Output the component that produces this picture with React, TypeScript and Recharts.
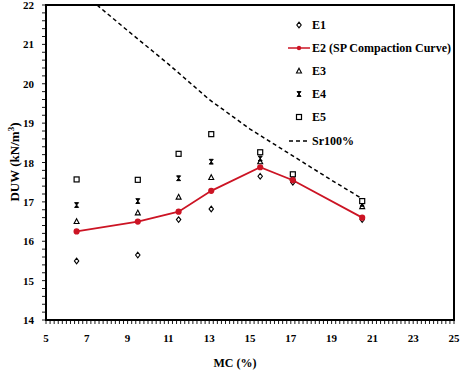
import React from "react";
import {
  ComposedChart,
  Line,
  Scatter,
  XAxis,
  YAxis,
  ReferenceArea,
} from "recharts";

// moisture content (%) for the test points
const mc = [6.5, 9.5, 11.5, 13.1, 15.5, 17.1, 20.5];
// dry unit weight (kN/m3) for each series
const e1 = [15.5, 15.65, 16.55, 16.82, 17.65, 17.5, 16.55];
const e2 = [16.25, 16.5, 16.75, 17.28, 17.88, 17.55, 16.6];
const e3 = [16.5, 16.72, 17.12, 17.62, 18.02, 17.6, 16.88];
const e4 = [16.92, 17.02, 17.6, 18.02, 18.1, 17.65, 16.95];
const e5 = [17.57, 17.56, 18.22, 18.72, 18.26, 17.7, 17.02];

// zero air voids line (Sr = 100%)
const srMc = [7.5, 9, 11, 13, 15, 17, 19, 20.5];
const srDuw = [22.0, 21.35, 20.5, 19.6, 18.85, 18.2, 17.55, 17.08];

const xMajor = [5, 7, 9, 11, 13, 15, 17, 19, 21, 23, 25];
const yMajor = [14, 15, 16, 17, 18, 19, 20, 21, 22];

const minorTicks = (lo: number, hi: number, step: number) => {
  const out: number[] = [];
  const n = Math.round((hi - lo) / step);
  for (let i = 0; i <= n; i++) out.push(+(lo + i * step).toFixed(4));
  return out;
};
const xTicks = minorTicks(5, 25, 0.2);
const yTicks = minorTicks(14, 22, 0.2);

const pts = (ys: number[]) => mc.map((x, i) => ({ x, y: ys[i] }));
const srData = srMc.map((x, i) => ({ x, y: srDuw[i] }));

const FONT = "'Liberation Serif', 'Times New Roman', serif";
const RED = "#cc1424";

const isMajor = (v: number, list: number[]) => list.some((m) => Math.abs(m - v) < 1e-6);

const XTick = (props: any) => {
  const { x, y, payload } = props;
  const major = isMajor(payload.value, xMajor);
  return (
    <g>
      <line x1={x} x2={x} y1={y} y2={y + 4} stroke="#000" strokeWidth={0.9} />
      {major && (
        <text x={x} y={y + 22} textAnchor="middle" fontFamily={FONT} fontWeight="bold" fontSize={11} fill="#000">
          {payload.value}
        </text>
      )}
    </g>
  );
};

const YTick = (props: any) => {
  const { x, y, payload } = props;
  const major = isMajor(payload.value, yMajor);
  return (
    <g>
      <line x1={x - 4} x2={x} y1={y} y2={y} stroke="#000" strokeWidth={0.9} />
      {major && (
        <text x={x - 12} y={y + 4} textAnchor="end" fontFamily={FONT} fontWeight="bold" fontSize={11} fill="#000">
          {payload.value}
        </text>
      )}
    </g>
  );
};

const Diamond = ({ cx, cy }: any) => (
  <path d={`M${cx},${cy - 2.8}L${cx + 2.2},${cy}L${cx},${cy + 2.8}L${cx - 2.2},${cy}Z`} fill="#fff" stroke="#000" strokeWidth={1.1} />
);
const Triangle = ({ cx, cy }: any) => (
  <path d={`M${cx},${cy - 2.8}L${cx + 2.5},${cy + 2}L${cx - 2.5},${cy + 2}Z`} fill="#fff" stroke="#000" strokeWidth={1.1} />
);
const Hourglass = ({ cx, cy }: any) => (
  <path d={`M${cx - 2},${cy - 2.4}H${cx + 2}L${cx - 2},${cy + 2.4}H${cx + 2}Z`} fill="#000" stroke="#000" strokeWidth={1} />
);
const Square = ({ cx, cy }: any) => (
  <rect x={cx - 2.5} y={cy - 2.5} width={5} height={5} fill="#fff" stroke="#000" strokeWidth={1.2} />
);

const legendRows = [
  { label: "E1", kind: "diamond" },
  { label: "E2 (SP Compaction Curve)", kind: "line" },
  { label: "E3", kind: "triangle" },
  { label: "E4", kind: "hourglass" },
  { label: "E5", kind: "square" },
  { label: "Sr100%", kind: "dash" },
];

const LegendIcon = ({ kind }: { kind: string }) => {
  const c = { cx: 11, cy: 6 };
  return (
    <svg width={22} height={12} style={{ display: "block" }}>
      {kind === "diamond" && <Diamond {...c} />}
      {kind === "triangle" && <Triangle {...c} />}
      {kind === "hourglass" && <Hourglass {...c} />}
      {kind === "square" && <Square {...c} />}
      {kind === "line" && (
        <g>
          <line x1={0} x2={22} y1={6} y2={6} stroke={RED} strokeWidth={1.5} />
          <circle cx={11} cy={6} r={2.2} fill={RED} />
        </g>
      )}
      {kind === "dash" && <line x1={1} x2={22} y1={6} y2={6} stroke="#000" strokeWidth={1.5} strokeDasharray="4 3" />}
    </svg>
  );
};

export default function App() {
  return (
    <div style={{ position: "absolute", left: 0, top: 0, width: 474, height: 375, background: "#fff" }}>
      <ComposedChart width={474} height={375} margin={{ top: 5, right: 20, bottom: 0, left: 0 }}>
        <XAxis
          type="number"
          dataKey="x"
          domain={[5, 25]}
          ticks={xTicks}
          interval={0}
          tickSize={0}
          tickMargin={0}
          tickLine={false}
          tick={<XTick />}
          height={55}
          axisLine={{ stroke: "#000", strokeWidth: 2 }}
          allowDataOverflow
        />
        <YAxis
          type="number"
          dataKey="y"
          domain={[14, 22]}
          ticks={yTicks}
          interval={0}
          tickSize={0}
          tickMargin={0}
          tickLine={false}
          tick={<YTick />}
          width={46}
          axisLine={{ stroke: "#000", strokeWidth: 2 }}
          allowDataOverflow
        />
        <ReferenceArea x1={5} x2={25} y1={14} y2={22} fill="none" fillOpacity={0} stroke="#000" strokeWidth={2} />
        <Line data={srData} dataKey="y" stroke="#000" strokeWidth={1.5} strokeDasharray="4 3" dot={false} isAnimationActive={false} />
        <Scatter data={pts(e1)} shape={<Diamond />} isAnimationActive={false} />
        <Scatter data={pts(e3)} shape={<Triangle />} isAnimationActive={false} />
        <Scatter data={pts(e4)} shape={<Hourglass />} isAnimationActive={false} />
        <Scatter data={pts(e5)} shape={<Square />} isAnimationActive={false} />
        <Line
          data={pts(e2)}
          dataKey="y"
          stroke={RED}
          strokeWidth={1.8}
          dot={{ r: 2.2, fill: RED, stroke: RED }}
          isAnimationActive={false}
        />
      </ComposedChart>
      <svg width={474} height={375} style={{ position: "absolute", left: 0, top: 0, pointerEvents: "none" }}>
        <text
          transform="translate(19,162) rotate(-90)"
          textAnchor="middle"
          fontFamily={FONT}
          fontWeight="bold"
          fontSize={13}
          fill="#000"
        >
          DUW (kN/m<tspan dy={-5} fontSize={9}>3</tspan>
          <tspan dy={5}>)</tspan>
        </text>
        <text x={235} y={367} textAnchor="middle" fontFamily={FONT} fontWeight="bold" fontSize={12} fill="#000">
          MC (%)
        </text>
      </svg>
      <div style={{ position: "absolute", left: 288, top: 13, fontFamily: FONT, fontWeight: "bold", fontSize: 12, lineHeight: "14px" }}>
        {legendRows.map((r) => (
          <div key={r.label} style={{ display: "flex", alignItems: "center", height: 23.2 }}>
            <LegendIcon kind={r.kind} />
            <span style={{ marginLeft: 2, whiteSpace: "nowrap" }}>{r.label}</span>
          </div>
        ))}
      </div>
    </div>
  );
}
